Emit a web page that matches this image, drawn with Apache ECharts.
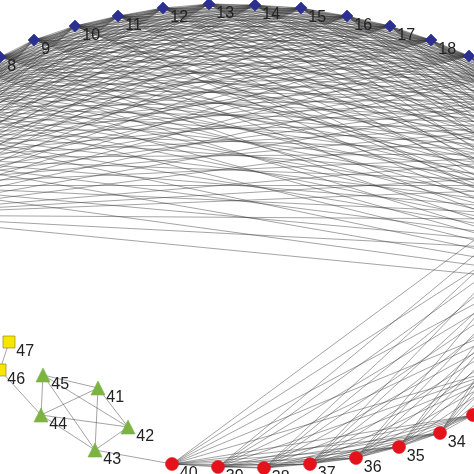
<!DOCTYPE html>
<html>
<head>
<meta charset="utf-8">
<script src="https://cdn.jsdelivr.net/npm/echarts@6/dist/echarts.min.js"></script>
<style>html,body{margin:0;padding:0;background:#fff}#main{width:474px;height:474px}</style>
</head>
<body>
<div id="main"></div>
<script>
// node data (pixel-like units, many nodes sit outside the cropped view)
var nodeNames = ['1','2','3','4','5','6','7','8','9','10','11','12','13','14','15','16','17','18','19','20','21','22','23','24','25','26','27',
  '28','29','30','31','32','33','34','35','36','37','38','39','40',
  '41','42','43','44','45','46','47'];
var nodeX = [-130,-112,-95,-78,-60,-42,-22,0,34,75,118,163,209,255,301,347,390,431,469,505,540,573,604,632,658,680,700,
  650,630,605,572,530,473,440,399,356,310,264,218,172,
  98,128,95,41,43,0,9];
var nodeY = [215,185,158,132,108,88,72,57,40,26,16,8,4,5,8,16,26,40,56,75,98,124,153,185,220,257,296,
  110,170,235,300,360,415,433,447,458,464,468,467,464,
  388,427,450,415,375,370,342];
var nodeGroup = ['b','b','b','b','b','b','b','b','b','b','b','b','b','b','b','b','b','b','b','b','b','b','b','b','b','b','b',
  'r','r','r','r','r','r','r','r','r','r','r','r','r',
  'g','g','g','g','g','y','y'];
// extra single links
var extraLinks = [['45','41'],['45','44'],['45','42'],['45','43'],['41','44'],['41','43'],['41','42'],['44','42'],['44','43'],['42','43'],
  ['44','46'],['43','40'],['47','46'],['10','30'],['1','29']];

var styles = {
  b: { symbol: 'diamond', symbolSize: 12, color: '#2b2f8f' },
  r: { symbol: 'circle', symbolSize: 13, color: '#e3121b' },
  g: { symbol: 'triangle', symbolSize: 14, color: '#7cb342' },
  y: { symbol: 'rect', symbolSize: 12, color: '#f7e600' }
};

var nodes = nodeNames.map(function (n, i) {
  var s = styles[nodeGroup[i]];
  return {
    name: n, value: [nodeX[i], nodeY[i]],
    symbol: s.symbol, symbolSize: s.symbolSize,
    itemStyle: { color: s.color, borderColor: nodeGroup[i] === 'y' ? '#8a7a00' : s.color, borderWidth: 0.6 }
  };
});

// blue and red groups are each fully connected
var links = [];
['b', 'r'].forEach(function (g) {
  var ids = nodeNames.filter(function (n, i) { return nodeGroup[i] === g; });
  for (var a = 0; a < ids.length; a++)
    for (var c = a + 1; c < ids.length; c++) links.push({ source: ids[a], target: ids[c] });
});
extraLinks.forEach(function (l) { links.push({ source: l[0], target: l[1] }); });

var chart = echarts.init(document.getElementById('main'));
chart.setOption({
  animation: false,
  grid: { left: 0, right: 0, top: 0, bottom: 0 },
  xAxis: { type: 'value', min: 0, max: 474, show: false },
  yAxis: { type: 'value', min: 0, max: 474, inverse: true, show: false },
  series: [{
    type: 'graph',
    coordinateSystem: 'cartesian2d',
    data: nodes,
    links: links,
    label: {
      show: true, position: 'right', offset: [-4, 10],
      fontSize: 16, color: '#222', fontFamily: 'Liberation Sans'
    },
    lineStyle: { color: '#333', width: 0.6, opacity: 0.75 },
    z: 2
  }]
});
</script>
</body>
</html>
